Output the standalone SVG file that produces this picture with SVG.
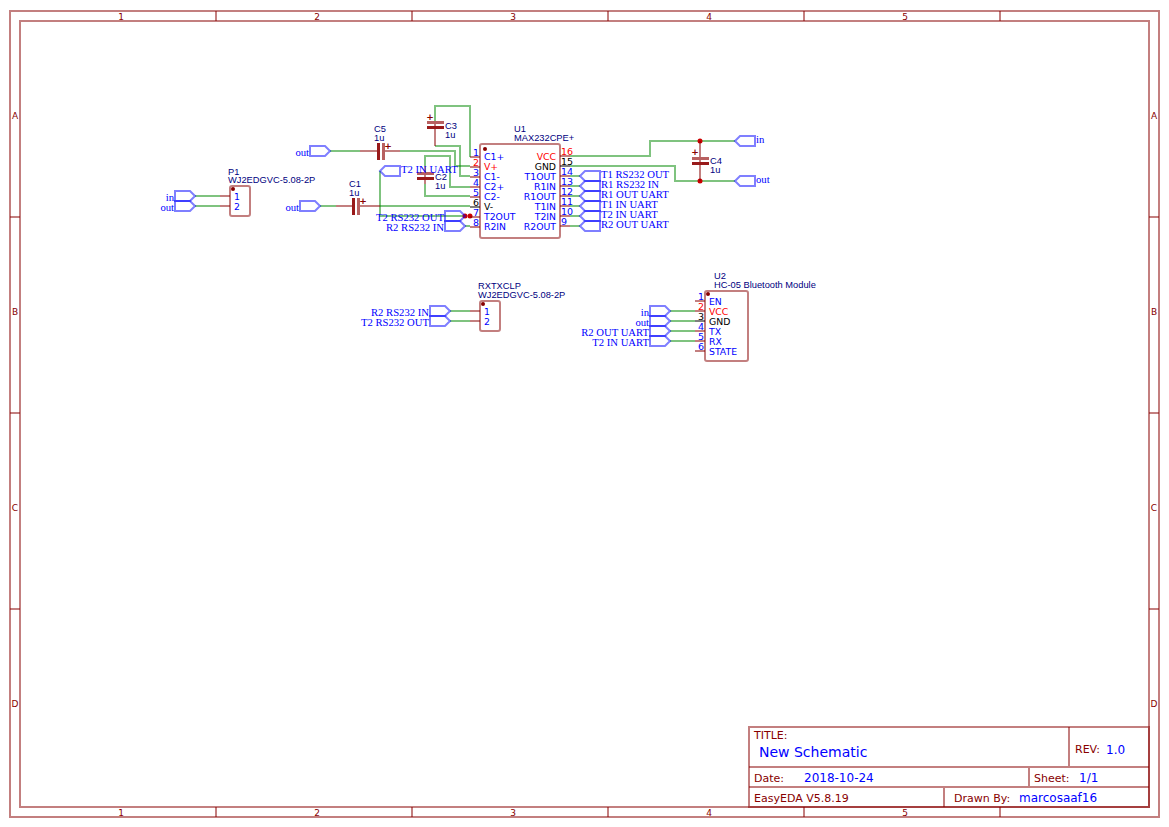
<svg xmlns="http://www.w3.org/2000/svg" width="1169" height="827" viewBox="0 0 1169 827">
<defs>
<style>
text{font-family:"DejaVu Sans",sans-serif;white-space:pre}
.f{fill:none;stroke:#880000;stroke-width:2;stroke-opacity:.5}
.b{fill:#fff;stroke:#880000;stroke-width:2;stroke-opacity:.5}
.w{fill:none;stroke:#008800;stroke-width:2;stroke-opacity:.5}
.pin{fill:none;stroke:#880000;stroke-width:2;stroke-opacity:.5}
.pk{fill:none;stroke:#000;stroke-width:2;stroke-opacity:.5}
.port{fill:none;stroke:#0000ff;stroke-width:2;stroke-opacity:.5}
.fr{font-size:9px;fill:#880000;text-anchor:middle}
.tb{font-size:11px;fill:#880000}
.tv{font-size:12px;fill:#0000ff}
.net{font-family:"Liberation Serif",serif;font-size:10.67px;fill:#0000ff}
.e{text-anchor:end}
.ref{font-family:"Liberation Sans",sans-serif;font-size:9.3px;fill:#000080}
.nm{font-size:9.3px;fill:#0000ff}
.num{font-size:9.5px;fill:#0000ff}
.r{fill:#ff0000}
.k{fill:#000}
.cap{fill:#991a1a}
.capl{fill:#b86060}
.plus{font-size:9px;font-weight:bold;fill:#880000;text-anchor:middle}
.j{fill:#cc0000}
.dot{fill:#880000}
</style>
<path id="pr" class="port" d="M0 -5L15 -5L20 0L15 5L0 5Z"/>
<path id="pl" class="port" d="M20 -5L5 -5L0 0L5 5L20 5Z"/>
</defs>
<rect width="1169" height="827" fill="#fff"/>
<g id="frame">
<rect class="f" x="10" y="11" width="1149" height="806"/>
<rect class="f" x="20" y="21" width="1129" height="786"/>
<path class="f" d="M216 11V21M412 11V21M608 11V21M804 11V21M1000 11V21M216 807V817M412 807V817M608 807V817M804 807V817M1000 807V817M10 217H20M10 413H20M10 609H20M1149 217H1159M1149 413H1159M1149 609H1159"/>
<text class="fr" x="121" y="20">1</text><text class="fr" x="317" y="20">2</text><text class="fr" x="513" y="20">3</text><text class="fr" x="709" y="20">4</text><text class="fr" x="905" y="20">5</text>
<text class="fr" x="121" y="816">1</text><text class="fr" x="317" y="816">2</text><text class="fr" x="513" y="816">3</text><text class="fr" x="709" y="816">4</text><text class="fr" x="905" y="816">5</text>
<text class="fr" x="15" y="119">A</text><text class="fr" x="15" y="315">B</text><text class="fr" x="15" y="511">C</text><text class="fr" x="15" y="707">D</text>
<text class="fr" x="1154" y="119">A</text><text class="fr" x="1154" y="315">B</text><text class="fr" x="1154" y="511">C</text><text class="fr" x="1154" y="707">D</text>
</g>
<g id="title-block">
<rect class="f" x="749" y="727" width="400" height="80"/>
<path class="f" d="M749 767H1149M749 787H1149M1069 727V767M1029 767V787M944 787V807"/>
<text class="tb" x="754" y="739">TITLE:</text>
<text class="tv" x="759" y="757" style="font-size:14px">New Schematic</text>
<text class="tb" x="1075" y="753">REV:</text>
<text class="tv" x="1106" y="754">1.0</text>
<text class="tb" x="754" y="782">Date:</text>
<text class="tv" x="804" y="782">2018-10-24</text>
<text class="tb" x="1034" y="782">Sheet:</text>
<text class="tv" x="1079" y="782">1/1</text>
<text class="tb" x="754" y="802">EasyEDA V5.8.19</text>
<text class="tb" x="954" y="802">Drawn By:</text>
<text class="tv" x="1019" y="802">marcosaaf16</text>
</g>
<g id="connectors">
<path class="w" d="M195 196H220M195 206H220"/>
<path class="w" d="M330 151H360M320 206H336M380 206H470"/>
<path class="w" d="M400 151H455V166H470"/>
<path class="w" d="M435 122V106H470V157"/>
<path class="w" d="M435 146H460V176H470"/>
<path class="w" d="M425 166V156H450V187H470"/>
<path class="w" d="M425 184V196H470"/>
<path class="w" d="M380 171V216H465"/>
<path class="w" d="M465 226H470"/>
<path class="w" d="M570 156H650V141H735"/>
<path class="w" d="M570 166H675V181H735"/>
<path class="w" d="M570 176H580M570 186H580M570 196H580M570 206H580M570 216H580M570 226H580"/>
<path class="w" d="M450 311H470M450 321H470"/>
<path class="w" d="M670 311H695M670 321H695M670 331H695M670 341H695"/>
</g>
<g id="junctions">
<circle class="j" cx="700" cy="141" r="2.5"/><circle class="j" cx="700" cy="181" r="2.5"/>
<circle class="j" cx="465" cy="216" r="2.5"/><circle class="j" cx="470" cy="216" r="2.5"/>
</g>
<g id="U1">
<rect class="b" x="480" y="144" width="80" height="94" rx="2"/>
<circle class="dot" cx="485" cy="149" r="2"/>
<text class="ref" x="514" y="132">U1</text><text class="ref" x="514" y="141">MAX232CPE+</text>
<path class="pin" d="M470 157H480M470 167H480M470 177H480M470 187H480M470 197H480M470 217H480M470 227H480M560 176H570M560 186H570M560 196H570M560 206H570M560 216H570M560 226H570M560 156H570"/>
<path class="pk" d="M470 207H480M560 166H570"/>
<text class="num e" x="479" y="156">1</text><text class="num r e" x="479" y="166">2</text><text class="num e" x="479" y="176">3</text><text class="num e" x="479" y="186">4</text><text class="num e" x="479" y="196">5</text><text class="num k e" x="479" y="206">6</text><text class="num e" x="479" y="216">7</text><text class="num e" x="479" y="226">8</text>
<text class="num r" x="561" y="155">16</text><text class="num k" x="561" y="165">15</text><text class="num" x="561" y="175">14</text><text class="num" x="561" y="185">13</text><text class="num" x="561" y="195">12</text><text class="num" x="561" y="205">11</text><text class="num" x="561" y="215">10</text><text class="num" x="561" y="225">9</text>
<text class="nm" x="484" y="160">C1+</text><text class="nm r" x="484" y="170">V+</text><text class="nm" x="484" y="180">C1-</text><text class="nm" x="484" y="190">C2+</text><text class="nm" x="484" y="200">C2-</text><text class="nm k" x="484" y="210">V-</text><text class="nm" x="484" y="220">T2OUT</text><text class="nm" x="484" y="230">R2IN</text>
<text class="nm r e" x="556" y="160">VCC</text><text class="nm k e" x="556" y="170">GND</text><text class="nm e" x="556" y="180">T1OUT</text><text class="nm e" x="556" y="190">R1IN</text><text class="nm e" x="556" y="200">R1OUT</text><text class="nm e" x="556" y="210">T1IN</text><text class="nm e" x="556" y="220">T2IN</text><text class="nm e" x="556" y="230">R2OUT</text>
</g>
<g id="C5">
<path class="pin" d="M360 151H378M384 151H400"/>
<rect class="cap" x="377" y="143" width="3" height="17"/><rect class="capl" x="382" y="143" width="3" height="17"/>
<text class="plus" x="388" y="149">+</text>
<text class="ref" x="374" y="132">C5</text><text class="ref" x="374" y="141">1u</text>
</g>
<g id="C1">
<path class="pin" d="M336 206H353M359 206H380"/>
<rect class="cap" x="352" y="198" width="3" height="17"/><rect class="capl" x="357" y="198" width="3" height="17"/>
<text class="plus" x="363" y="204">+</text>
<text class="ref" x="349" y="187">C1</text><text class="ref" x="349" y="196">1u</text>
</g>
<g id="C3">
<path class="pin" d="M435 122V146"/>
<rect class="capl" x="427" y="121" width="17" height="3"/><rect class="cap" x="427" y="126" width="17" height="3"/>
<text class="plus" x="430" y="120">+</text>
<text class="ref" x="445" y="129">C3</text><text class="ref" x="445" y="138">1u</text>
</g>
<g id="C2">
<path class="pin" d="M425 166V184"/>
<rect class="capl" x="417" y="172" width="17" height="3"/><rect class="cap" x="417" y="177" width="17" height="3"/>
<text class="ref" x="435" y="180">C2</text><text class="ref" x="435" y="189">1u</text>
</g>
<g id="C4">
<path class="pin" d="M700 141V181"/>
<rect class="capl" x="692" y="157" width="17" height="3"/><rect class="cap" x="692" y="162" width="17" height="3"/>
<text class="plus" x="695" y="155">+</text>
<text class="ref" x="710" y="164">C4</text><text class="ref" x="710" y="173">1u</text>
</g>
<g id="P1">
<rect class="b" x="230" y="186" width="20" height="30" rx="2"/>
<circle class="dot" cx="233" cy="189" r="2"/>
<path class="pin" d="M220 196H230M220 206H230"/>
<text class="ref" x="228" y="175">P1</text><text class="ref" x="228" y="183">WJ2EDGVC-5.08-2P</text>
<text class="nm" x="234" y="200">1</text><text class="nm" x="234" y="210">2</text>
</g>
<g id="RXTXCLP">
<rect class="b" x="480" y="301" width="20" height="30" rx="2"/>
<circle class="dot" cx="483" cy="304" r="2"/>
<path class="pin" d="M470 311H480M470 321H480"/>
<text class="ref" x="478" y="289">RXTXCLP</text><text class="ref" x="478" y="298">WJ2EDGVC-5.08-2P</text>
<text class="nm" x="484" y="315">1</text><text class="nm" x="484" y="325">2</text>
</g>
<g id="U2">
<rect class="b" x="705" y="291" width="43" height="70" rx="2"/>
<circle class="dot" cx="708" cy="294" r="2"/>
<path class="pin" d="M695 301H705M695 311H705M695 331H705M695 341H705M695 351H705"/>
<path class="pk" d="M695 321H705"/>
<text class="ref" x="714" y="279">U2</text><text class="ref" x="714" y="288">HC-05 Bluetooth Module</text>
<text class="num e" x="704" y="300">1</text><text class="num r e" x="704" y="310">2</text><text class="num k e" x="704" y="320">3</text><text class="num e" x="704" y="330">4</text><text class="num e" x="704" y="340">5</text><text class="num e" x="704" y="350">6</text>
<text class="nm" x="709" y="305">EN</text><text class="nm r" x="709" y="315">VCC</text><text class="nm k" x="709" y="325">GND</text><text class="nm" x="709" y="335">TX</text><text class="nm" x="709" y="345">RX</text><text class="nm" x="709" y="355">STATE</text>
</g>
<g id="net-ports">
<use href="#pr" x="175" y="196"/><text class="net e" x="174" y="201">in</text>
<use href="#pr" x="175" y="206"/><text class="net e" x="174" y="211">out</text>
<use href="#pr" x="310" y="151"/><text class="net e" x="309" y="156">out</text>
<use href="#pr" x="300" y="206"/><text class="net e" x="299" y="211">out</text>
<use href="#pl" x="380" y="171"/><text class="net" x="401" y="173">T2 IN UART</text>
<use href="#pr" x="445" y="216"/><text class="net e" x="444" y="221">T2 RS232 OUT</text>
<use href="#pr" x="445" y="226"/><text class="net e" x="444" y="231">R2 RS232 IN</text>
<use href="#pl" x="735" y="141"/><text class="net" x="756" y="143">in</text>
<use href="#pl" x="735" y="181"/><text class="net" x="756" y="183">out</text>
<use href="#pl" x="580" y="176"/><text class="net" x="601" y="178">T1 RS232 OUT</text>
<use href="#pl" x="580" y="186"/><text class="net" x="601" y="188">R1 RS232 IN</text>
<use href="#pl" x="580" y="196"/><text class="net" x="601" y="198">R1 OUT UART</text>
<use href="#pl" x="580" y="206"/><text class="net" x="601" y="208">T1 IN UART</text>
<use href="#pl" x="580" y="216"/><text class="net" x="601" y="218">T2 IN UART</text>
<use href="#pl" x="580" y="226"/><text class="net" x="601" y="228">R2 OUT UART</text>
<use href="#pr" x="430" y="311"/><text class="net e" x="429" y="316">R2 RS232 IN</text>
<use href="#pr" x="430" y="321"/><text class="net e" x="429" y="326">T2 RS232 OUT</text>
<use href="#pr" x="650" y="311"/><text class="net e" x="649" y="316">in</text>
<use href="#pr" x="650" y="321"/><text class="net e" x="649" y="326">out</text>
<use href="#pr" x="650" y="331"/><text class="net e" x="649" y="336">R2 OUT UART</text>
<use href="#pr" x="650" y="341"/><text class="net e" x="649" y="346">T2 IN UART</text>
</g>
</svg>
